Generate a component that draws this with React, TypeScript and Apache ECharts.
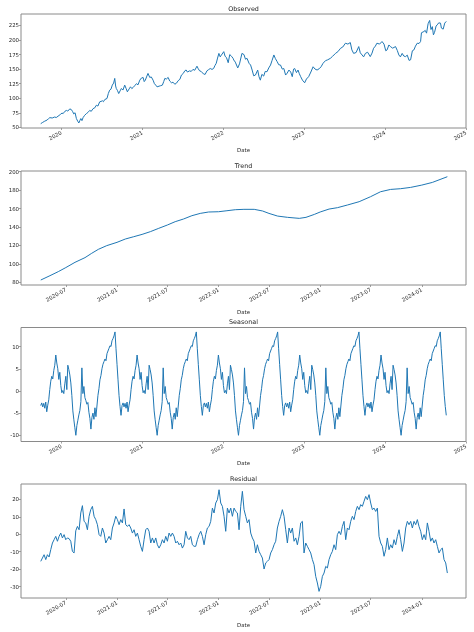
import { useEffect, useRef } from 'react';
import * as echarts from 'echarts';

// Daily close, sampled readings (date, price)
const observed: [string, number][] = [
  ['2019-10-01', 56.2], ['2019-10-10', 58.5], ['2019-10-19', 60.5], ['2019-10-30', 62.5],
  ['2019-11-05', 64.8], ['2019-11-11', 66.6], ['2019-11-22', 66.0], ['2019-12-03', 67.7],
  ['2019-12-10', 66.8], ['2019-12-18', 69.0], ['2019-12-30', 72.5], ['2020-01-05', 74.5],
  ['2020-01-10', 73.5], ['2020-01-18', 77.5], ['2020-01-25', 79.0], ['2020-01-31', 77.8],
  ['2020-02-09', 81.6], ['2020-02-16', 80.5], ['2020-02-22', 77.0], ['2020-02-27', 73.0],
  ['2020-03-04', 75.0], ['2020-03-10', 65.0], ['2020-03-16', 60.5], ['2020-03-21', 57.4],
  ['2020-03-26', 62.0], ['2020-03-30', 65.0], ['2020-04-04', 61.5], ['2020-04-09', 66.6],
  ['2020-04-16', 70.5], ['2020-04-24', 73.5], ['2020-05-01', 75.5], ['2020-05-09', 79.0],
  ['2020-05-16', 77.5], ['2020-05-24', 82.0], ['2020-06-01', 83.5], ['2020-06-08', 88.0],
  ['2020-06-15', 86.5], ['2020-06-23', 93.7], ['2020-07-06', 95.5], ['2020-07-10', 94.0],
  ['2020-07-16', 97.7], ['2020-07-26', 99.5], ['2020-08-01', 108.0], ['2020-08-07', 113.8],
  ['2020-08-13', 115.5], ['2020-08-19', 122.5], ['2020-08-25', 126.0], ['2020-08-30', 134.0],
  ['2020-09-03', 121.0], ['2020-09-06', 116.7], ['2020-09-11', 113.5], ['2020-09-17', 108.0],
  ['2020-09-23', 112.5], ['2020-09-29', 116.7], ['2020-10-06', 114.0], ['2020-10-14', 122.5],
  ['2020-10-20', 117.0], ['2020-10-26', 111.0], ['2020-11-03', 116.0], ['2020-11-09', 119.6],
  ['2020-11-15', 116.5], ['2020-11-21', 118.4], ['2020-11-28', 121.5], ['2020-12-06', 125.0],
  ['2020-12-13', 123.0], ['2020-12-21', 131.0], ['2020-12-28', 134.5], ['2021-01-05', 135.7],
  ['2021-01-10', 128.5], ['2021-01-15', 131.0], ['2021-01-22', 138.0], ['2021-01-27', 142.6],
  ['2021-02-04', 135.7], ['2021-02-11', 136.5], ['2021-02-19', 131.0], ['2021-02-25', 125.0],
  ['2021-03-03', 122.5], ['2021-03-09', 119.5], ['2021-03-18', 120.7], ['2021-03-25', 121.5],
  ['2021-04-02', 122.5], ['2021-04-08', 128.5], ['2021-04-13', 134.0], ['2021-04-20', 133.0],
  ['2021-04-28', 135.7], ['2021-05-05', 129.5], ['2021-05-13', 126.5], ['2021-05-20', 127.5],
  ['2021-05-28', 124.0], ['2021-06-05', 126.0], ['2021-06-12', 130.0], ['2021-06-20', 132.5],
  ['2021-06-27', 139.8], ['2021-07-05', 142.5], ['2021-07-12', 147.0], ['2021-07-18', 148.5],
  ['2021-07-24', 145.0], ['2021-08-03', 147.0], ['2021-08-10', 146.0], ['2021-08-18', 149.5],
  ['2021-08-26', 148.0], ['2021-09-05', 155.0], ['2021-09-11', 150.5], ['2021-09-17', 147.0],
  ['2021-09-24', 146.0], ['2021-10-05', 141.5], ['2021-10-12', 141.0], ['2021-10-20', 147.0],
  ['2021-10-27', 149.0], ['2021-11-04', 151.0], ['2021-11-12', 149.5], ['2021-11-19', 151.0],
  ['2021-11-25', 156.0], ['2021-12-01', 160.0], ['2021-12-07', 169.0], ['2021-12-13', 177.0],
  ['2021-12-19', 171.0], ['2021-12-24', 174.0], ['2022-01-04', 180.0], ['2022-01-10', 172.0],
  ['2022-01-16', 170.0], ['2022-01-24', 161.0], ['2022-01-31', 175.0], ['2022-02-08', 172.0],
  ['2022-02-15', 168.5], ['2022-02-18', 165.7], ['2022-02-25', 162.0], ['2022-03-08', 152.0],
  ['2022-03-16', 159.0], ['2022-03-27', 177.0], ['2022-04-05', 175.0], ['2022-04-12', 167.0],
  ['2022-04-19', 168.5], ['2022-04-28', 160.0], ['2022-05-05', 157.0], ['2022-05-12', 148.4],
  ['2022-05-19', 138.5], ['2022-05-27', 139.8], ['2022-06-06', 148.4], ['2022-06-12', 137.0],
  ['2022-06-18', 131.0], ['2022-06-25', 141.0], ['2022-07-03', 138.0], ['2022-07-10', 146.0],
  ['2022-07-18', 145.5], ['2022-07-26', 152.0], ['2022-08-03', 157.0], ['2022-08-10', 165.0],
  ['2022-08-18', 174.3], ['2022-08-25', 168.0], ['2022-09-02', 162.8], ['2022-09-09', 157.5],
  ['2022-09-17', 157.0], ['2022-09-25', 150.0], ['2022-10-02', 151.0], ['2022-10-10', 139.8],
  ['2022-10-17', 143.0], ['2022-10-25', 148.4], ['2022-11-02', 145.0], ['2022-11-09', 137.0],
  ['2022-11-15', 150.0], ['2022-11-20', 151.0], ['2022-11-28', 144.0], ['2022-12-05', 148.4],
  ['2022-12-11', 142.0], ['2022-12-17', 137.0], ['2022-12-25', 131.0], ['2023-01-04', 126.5],
  ['2023-01-12', 133.0], ['2023-01-22', 137.0], ['2023-02-01', 145.0], ['2023-02-11', 154.0],
  ['2023-02-20', 150.0], ['2023-03-01', 148.4], ['2023-03-10', 150.5], ['2023-03-19', 154.0],
  ['2023-03-28', 160.0], ['2023-04-08', 164.5], ['2023-04-18', 166.0], ['2023-04-30', 168.5],
  ['2023-05-10', 172.0], ['2023-05-23', 177.0], ['2023-06-03', 180.0], ['2023-06-15', 185.8],
  ['2023-06-25', 188.0], ['2023-07-07', 194.5], ['2023-07-18', 193.0], ['2023-07-29', 195.6],
  ['2023-08-05', 183.0], ['2023-08-13', 177.0], ['2023-08-24', 178.5], ['2023-09-05', 188.7],
  ['2023-09-12', 178.0], ['2023-09-20', 174.3], ['2023-09-27', 171.0], ['2023-10-05', 177.0],
  ['2023-10-15', 179.0], ['2023-10-27', 171.5], ['2023-11-04', 177.5], ['2023-11-11', 185.8],
  ['2023-11-19', 189.5], ['2023-11-26', 194.5], ['2023-12-08', 193.0], ['2023-12-19', 197.4],
  ['2023-12-28', 193.0], ['2024-01-05', 181.5], ['2024-01-11', 183.0], ['2024-01-19', 191.5],
  ['2024-01-26', 188.7], ['2024-02-05', 186.0], ['2024-02-18', 188.7], ['2024-02-26', 182.0],
  ['2024-03-04', 174.3], ['2024-03-11', 171.0], ['2024-03-19', 177.0], ['2024-03-26', 172.5],
  ['2024-04-03', 171.5], ['2024-04-11', 174.0], ['2024-04-19', 165.0], ['2024-04-26', 166.0],
  ['2024-05-04', 181.5], ['2024-05-11', 183.0], ['2024-05-18', 189.5], ['2024-05-26', 194.5],
  ['2024-06-03', 194.0], ['2024-06-10', 197.4], ['2024-06-14', 212.5], ['2024-06-25', 214.6],
  ['2024-07-01', 216.5], ['2024-07-07', 211.8], ['2024-07-14', 228.0], ['2024-07-21', 233.6],
  ['2024-07-27', 218.0], ['2024-08-02', 223.0], ['2024-08-07', 208.9], ['2024-08-12', 213.0],
  ['2024-08-19', 224.0], ['2024-08-24', 226.0], ['2024-08-31', 229.5], ['2024-09-08', 229.0],
  ['2024-09-12', 220.5], ['2024-09-20', 218.7], ['2024-09-27', 229.0], ['2024-10-04', 232.0],
];

// Smoothed trend component
const trend: [string, number][] = [
  ['2020-04-02', 82.5], ['2020-05-05', 87.2], ['2020-06-04', 91.6], ['2020-07-01', 96.0],
  ['2020-08-03', 101.7], ['2020-09-08', 106.8], ['2020-10-02', 111.5], ['2020-10-26', 115.8],
  ['2020-11-25', 119.8], ['2021-01-01', 123.4], ['2021-01-31', 127.0], ['2021-03-02', 129.5],
  ['2021-04-01', 132.0], ['2021-05-01', 135.0], ['2021-05-31', 138.6], ['2021-07-01', 142.2],
  ['2021-07-29', 145.8], ['2021-08-28', 148.7], ['2021-09-27', 152.3], ['2021-10-27', 154.8],
  ['2021-11-26', 156.3], ['2022-01-01', 156.6], ['2022-01-31', 157.7], ['2022-03-02', 158.8],
  ['2022-04-02', 159.2], ['2022-05-09', 159.2], ['2022-06-08', 157.4], ['2022-07-01', 154.8],
  ['2022-08-01', 151.9], ['2022-09-06', 150.5], ['2022-10-18', 149.4], ['2022-11-11', 150.5],
  ['2022-12-11', 153.7], ['2023-01-01', 156.3], ['2023-02-02', 159.5], ['2023-03-04', 161.0],
  ['2023-04-09', 163.9], ['2023-05-21', 167.5], ['2023-07-01', 172.9], ['2023-08-06', 178.3],
  ['2023-09-11', 180.8], ['2023-10-17', 181.6], ['2023-11-22', 183.0], ['2024-01-01', 185.5],
  ['2024-02-08', 188.4], ['2024-04-02', 194.6],
];

// One period of the seasonal component (repeats every cycle)
const seasonalCycle: number[] = [
  -3.3, -2.7, -3.6, -2.8, -3.9, -2.5, -4.7, -3.2, -2.0, 0.3,
  2.2, 3.3, 2.7, 4.6, 5.8, 8.1, 6.3, 5.0, 2.6, 4.2,
  1.2, -0.4, 0.1, -0.6, 1.6, 3.3, 0.3, 5.8, 4.8, 3.6,
  1.8, -1.0, -4.5, -6.5, -8.3, -10.0, -7.8, -6.6, -5.4, -4.4,
  -2.4, 5.2, -0.6, 1.0, -1.5, -2.2, -3.0, -2.6, -4.8, -6.2,
  -8.6, -6.0, -5.0, -6.4, -3.8, -5.8, -3.4, -1.0, 0.5, 2.5,
  3.5, 5.0, 6.0, 6.6, 7.2, 6.8, 8.4, 9.0, 9.6, 10.2,
  10.0, 11.3, 11.8, 12.4, 13.3, 9.5, 6.0, 2.5, -1.0, -3.5,
  -5.5,
];
const seasonalCycles = 5;
const seasonalStart = '2019-10-01';
const seasonalEnd = '2024-10-04';

// Residual component, evenly spaced between residualStart and residualEnd
const residual: number[] = [
  -15.5, -13.6, -11.7, -14.5, -11.7, -13.0, -8.8, -5.0, -3.1, -1.2,
  -4.0, -1.2, 0.7, -2.1, -0.2, -3.1, -2.1, -2.5, -4.0, -9.8,
  -10.7, 2.0, 4.5, 2.6, 12.2, 16.4, 7.4, 6.5, 2.6, 10.3,
  14.1, 16.0, 10.3, 8.4, 5.5, -0.2, -1.2, 3.6, 0.7, -5.0,
  -3.1, -1.2, -3.1, 3.6, 6.5, 10.3, 8.4, 5.5, 8.4, 6.5,
  14.5, 5.5, 4.5, 5.5, 3.6, 0.7, 2.6, -1.2, 0.7, -3.1,
  -6.9, -9.8, -3.1, 2.6, 3.6, 1.7, -5.0, -2.1, -5.0, -2.1,
  -6.0, -7.9, -6.0, -3.1, -5.0, -1.2, -4.0, 0.7, -1.2, 0.7,
  -1.2, -5.0, -4.0, -6.0, -5.0, -7.9, -6.0, 1.7, -2.1, -3.1,
  -1.2, -6.0, -6.9, -6.9, -3.1, -0.2, 1.7, -1.2, -6.0, -0.2,
  3.6, 4.5, 7.4, 15.0, 12.2, 17.9, 19.8, 25.5, 17.9, 16.0,
  10.3, 1.7, 15.0, 12.2, 15.0, 10.3, 15.0, 13.1, 12.2, 2.6,
  16.0, 24.6, 14.1, 10.3, 6.5, 8.4, 0.7, -2.1, -4.0, -10.7,
  -6.0, -9.8, -11.7, -13.6, -19.9, -16.4, -15.5, -14.5, -10.7, -8.8,
  -6.0, -4.0, 3.6, 7.4, 10.3, 14.1, 10.3, 2.6, -5.0, 3.6,
  0.7, 3.6, -4.0, -2.1, -6.0, -1.2, 6.5, 7.4, -10.7, -5.0,
  -6.9, -8.8, -10.7, -14.5, -17.4, -24.1, -27.9, -32.7, -29.8, -24.1,
  -22.2, -18.4, -19.3, -14.5, -11.7, -9.8, -6.0, -8.8, -0.2, 1.7,
  -0.2, 4.5, 7.4, -3.1, 3.6, 2.6, 7.4, 10.3, 8.4, 13.1,
  16.0, 14.1, 17.0, 16.0, 18.9, 21.7, 19.8, 22.7, 17.9, 14.1,
  15.0, 13.1, 15.0, -1.2, -5.0, -6.9, -12.6, -8.8, -2.1, -8.8,
  -6.0, -7.9, -3.1, -6.0, -1.2, 2.6, -3.1, -9.8, -5.0, 3.6,
  7.4, 5.5, 7.4, 3.6, 7.4, 5.5, 8.4, 4.5, 1.7, -3.1,
  -0.2, -3.1, 6.5, 1.7, -4.0, -2.1, -5.0, -3.1, -6.9, -10.7,
  -8.8, -7.9, -14.5, -16.4, -22.2,
];
const residualStart = '2020-04-02';
const residualEnd = '2024-04-02';

// Tick positions
const yearTicks = ['2020-01-01', '2021-01-01', '2022-01-01', '2023-01-01', '2024-01-01', '2025-01-01'];
const halfYearTicks = [
  '2020-07-01', '2021-01-01', '2021-07-01', '2022-01-01',
  '2022-07-01', '2023-01-01', '2023-07-01', '2024-01-01',
];
const observedTicks = [50, 75, 100, 125, 150, 175, 200, 225];
const trendTicks = [80, 100, 120, 140, 160, 180, 200];
const seasonalTicks = [-10, -5, 0, 5, 10];
const residualTicks = [-30, -20, -10, 0, 10, 20];

const toTime = (s: string) => Date.parse(s + 'T00:00:00Z');

function evenlySpaced(values: number[], start: string, end: string): [number, number][] {
  const t0 = toTime(start);
  const step = (toTime(end) - t0) / (values.length - 1);
  return values.map((v, i) => [t0 + i * step, v]);
}

const pairs = (rows: [string, number][]): [number, number][] => rows.map(([d, v]) => [toTime(d), v]);

const seasonalValues = Array.from({ length: seasonalCycles }, () => seasonalCycle).flat();

const FONT = '"DejaVu Sans", "Liberation Sans", sans-serif';
const LINE = '#1f77b4';
const FRAME = '#8a8a8a';
const INK = '#262626';
const W = 474;
const H = 632;
const LEFT = 21;
const RIGHT = 8;
const PLOT_H = 114;

const fmtYear = (v: number) => String(new Date(v).getUTCFullYear());
const fmtMonth = (v: number) => {
  const d = new Date(v);
  return `${d.getUTCFullYear()}-${String(d.getUTCMonth() + 1).padStart(2, '0')}`;
};

const panels = [
  {
    title: 'Observed', top: 14, data: pairs(observed),
    yMin: 48.8, yMax: 244.7, yTicks: observedTicks,
    xMin: '2019-07-04', xMax: '2025-01-01', xTicks: yearTicks, fmt: fmtYear, nameGap: 19,
  },
  {
    title: 'Trend', top: 171, data: pairs(trend),
    yMin: 77.1, yMax: 200.8, yTicks: trendTicks,
    xMin: '2020-01-22', xMax: '2024-06-08', xTicks: halfYearTicks, fmt: fmtMonth, nameGap: 24,
  },
  {
    title: 'Seasonal', top: 327.5, data: evenlySpaced(seasonalValues, seasonalStart, seasonalEnd),
    yMin: -11.4, yMax: 14.3, yTicks: seasonalTicks,
    xMin: '2019-07-04', xMax: '2025-01-01', xTicks: yearTicks, fmt: fmtYear, nameGap: 19,
  },
  {
    title: 'Residual', top: 484, data: evenlySpaced(residual, residualStart, residualEnd),
    yMin: -36.5, yMax: 28.8, yTicks: residualTicks,
    xMin: '2020-01-22', xMax: '2024-06-08', xTicks: halfYearTicks, fmt: fmtMonth, nameGap: 24,
  },
];

export default function App() {
  const ref = useRef<HTMLDivElement>(null);

  useEffect(() => {
    if (!ref.current) return;
    const chart = echarts.init(ref.current, undefined, { renderer: 'svg', width: W, height: H });
    const tickText = { fontFamily: FONT, fontSize: 5.4, color: INK };

    chart.setOption({
      animation: false,
      backgroundColor: '#ffffff',
      grid: panels.map((p) => ({
        left: LEFT, right: RIGHT, top: p.top, height: PLOT_H,
        show: true, borderColor: FRAME, borderWidth: 1, backgroundColor: 'transparent',
      })),
      // Dates are kept as UTC timestamps on a linear axis so ticks sit exactly on the calendar dates
      xAxis: panels.map((p, i) => {
        const ticks = p.xTicks.map(toTime);
        return {
          type: 'value', gridIndex: i, scale: true,
          min: toTime(p.xMin), max: toTime(p.xMax),
          name: 'Date', nameLocation: 'middle', nameGap: p.nameGap,
          nameTextStyle: { fontFamily: FONT, fontSize: 5.4, color: INK },
          axisLine: { show: false, onZero: false },
          splitLine: { show: false },
          axisTick: { show: true, length: 2, customValues: ticks, lineStyle: { color: FRAME, width: 0.8 } },
          axisLabel: {
            ...tickText, rotate: 30, margin: 4, customValues: ticks,
            formatter: (v: number) => p.fmt(v), hideOverlap: false,
          },
        };
      }),
      yAxis: panels.map((p, i) => ({
        type: 'value', gridIndex: i, min: p.yMin, max: p.yMax,
        axisLine: { show: false, onZero: false },
        splitLine: { show: false },
        axisTick: { show: true, length: 2, customValues: p.yTicks, lineStyle: { color: FRAME, width: 0.8 } },
        axisLabel: { ...tickText, margin: 2, customValues: p.yTicks },
      })),
      series: panels.map((p, i) => ({
        type: 'line', name: p.title, xAxisIndex: i, yAxisIndex: i,
        data: p.data, showSymbol: false, symbol: 'none', silent: true,
        lineStyle: { color: LINE, width: 1 },
      })),
      graphic: panels.map((p) => ({
        type: 'text',
        x: LEFT + (W - LEFT - RIGHT) / 2,
        y: p.top - 5.5,
        silent: true,
        style: {
          text: p.title, fontFamily: FONT, fontSize: 6.4, fill: INK,
          align: 'center', verticalAlign: 'middle',
        },
      })),
    });

    return () => chart.dispose();
  }, []);

  return (
    <div
      ref={ref}
      style={{
        position: 'fixed', left: 0, top: 0, width: W, height: H,
        background: '#fff', willChange: 'transform',
      }}
    />
  );
}
